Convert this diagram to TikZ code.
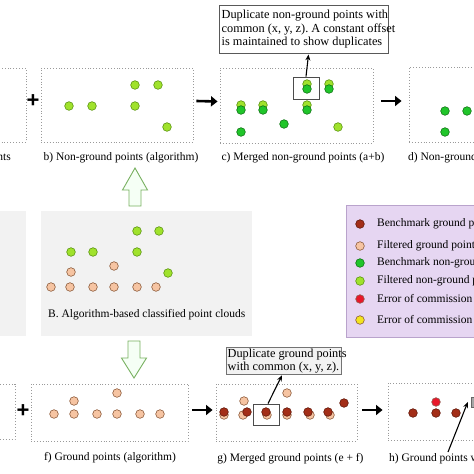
\documentclass[tikz,border=0pt]{standalone}
\usepackage{fontspec}
\setmainfont{Liberation Serif}
\setsansfont{Liberation Sans}
\usetikzlibrary{arrows.meta}
\definecolor{lgreen}{HTML}{A0E22C}
\definecolor{lgreenb}{HTML}{5A9410}
\definecolor{dgreen}{HTML}{20C52A}
\definecolor{dgreenb}{HTML}{0F7414}
\definecolor{peach}{HTML}{F6C4A2}
\definecolor{peachb}{HTML}{8C5A3A}
\definecolor{bmbrown}{HTML}{A32E18}
\definecolor{bmbrownb}{HTML}{62180A}
\definecolor{errred}{HTML}{E8182A}
\definecolor{erryel}{HTML}{F2E41E}
\definecolor{legbg}{HTML}{E6D6F2}
\definecolor{legbd}{HTML}{B9A3CC}
\definecolor{panelbg}{HTML}{F2F2F2}
\definecolor{hollowg}{HTML}{78B060}
\definecolor{dotgrey}{HTML}{9A9A9A}
\begin{document}
\frenchspacing
\begin{tikzpicture}[x=1pt,y=-1pt,
  font=\fontsize{11.5}{13.5}\selectfont,
  pt/.style={circle,inner sep=0pt,minimum size=8.6pt,line width=0.6pt},
  lg/.style={pt,fill=lgreen,draw=lgreenb},
  dg/.style={pt,fill=dgreen,draw=dgreenb},
  pe/.style={pt,fill=peach,draw=peachb},
  bm/.style={pt,fill=bmbrown,draw=bmbrownb},
  er/.style={pt,fill=errred,draw=bmbrownb!70},
  ey/.style={pt,fill=erryel,draw=peachb},
  dotbox/.style={draw=dotgrey,dotted,line width=0.9pt,inner sep=0pt},
  hlbox/.style={draw=black!70,line width=0.9pt,inner sep=0pt},
  bigarr/.style={line width=2.6pt,-{Triangle[length=6.5pt,width=10pt]}},
  callarr/.style={line width=1.1pt,-{Stealth[length=6pt,width=5pt]}},
  hollow/.style={draw=hollowg,fill=white!96!green,line width=0.9pt},
  plussign/.style={font=\fontsize{22}{22}\selectfont\sffamily\bfseries,inner sep=0pt},
  captxt/.style={inner sep=0pt},
  calltxt/.style={inner sep=0pt,align=left,font=\fontsize{12.3}{13.5}\selectfont}]
\useasboundingbox (0,0) rectangle (474,474);
\clip (0,0) rectangle (474,474);
\fill[white] (0,0) rectangle (474,474);

% ---------- top row ----------
\node[dotbox,minimum width=152pt,minimum height=74pt] (boxa) at (-50,105) {};
\node[dotbox,minimum width=152pt,minimum height=74pt] (boxb) at (117,105) {};
\node[dotbox,minimum width=153pt,minimum height=75pt] (boxc) at (296.5,105.5) {};
\node[dotbox,minimum width=152pt,minimum height=75pt] (boxd) at (485,105) {};

\node[plussign] (plus1) at (33,101) {+};
\draw[bigarr] ([xshift=3pt,yshift=4pt]boxb.east) -- ([xshift=-2pt,yshift=4pt]boxc.west);
\draw[bigarr] ([xshift=8pt,yshift=4.5pt]boxc.east) -- ([xshift=-7pt,yshift=4pt]boxd.west);

\foreach \x/\y [count=\i] in {69/106,92/106,135/85,158/85,135/106,167/127}
  \node[lg] (b\i) at (\x,\y) {};

\foreach \x/\y [count=\i] in {307/84,329/84,241/105,263/105,307/105,338/127}
  \node[lg] (cl\i) at (\x,\y) {};
\foreach \x/\y [count=\i] in {307/89,329/89,241/110,263/110,307/110,284/124,241/132}
  \node[dg] (cd\i) at (\x,\y) {};

\foreach \x/\y [count=\i] in {445/111,467/111,445/132}
  \node[dg] (d\i) at (\x,\y) {};

\node[hlbox,minimum width=26pt,minimum height=22pt] (hlc) at (306,88) {};
\node[draw=black!65,line width=1pt,fill=white,minimum width=169pt,minimum height=48pt,inner sep=0pt] (callc) at (303.5,29) {};
\node[calltxt,anchor=west] (callctxt) at (221.5,29.5)
  {Duplicate non-ground points with\\common (x, y, z). A constant offset\\is maintained to show duplicates};
\draw[callarr] (hlc.north) -- ([xshift=5pt,yshift=-1pt]callc.south);

\node[captxt,anchor=east] (capa) at (11,158) {a) Non-ground points};
\node[captxt] (capb) at (121,158) {b) Non-ground points (algorithm)};
\node[captxt] (capc) at (303,158) {c) Merged non-ground points (a+b)};
\node[captxt,anchor=west] (capd) at (408,158) {d) Non-ground points (benchmark)};

% ---------- middle ----------
\node[fill=panelbg,minimum width=60pt,minimum height=125pt,inner sep=0pt] (panelA) at (-4,273.5) {};
\node[fill=panelbg,minimum width=211pt,minimum height=125pt,inner sep=0pt] (panelB) at (146.5,273.5) {};

\foreach \x/\y [count=\i] in {137/231,159/231,71/252,93/252,137/252,168/273}
  \node[lg] (Bg\i) at (\x,\y) {};
\foreach \x/\y [count=\i] in {114/266,71/272,51/287,70/287,93/287,114/287,137/287,156/287}
  \node[pe] (Bp\i) at (\x,\y) {};
\node[captxt,anchor=west] (capB) at (48,315) {B. Algorithm-based classified point clouds};

% hollow arrows
\draw[hollow] (129,206) -- (129,190) -- (122.5,190) -- (135,168) -- (147.5,190) -- (141,190) -- (141,206) -- cycle;
\draw[hollow] (128,341) -- (128,358) -- (121.5,358) -- (134,378) -- (146.5,358) -- (140,358) -- (140,341) -- cycle;

% legend
\node[fill=legbg,draw=legbd,line width=0.6pt,minimum width=150pt,minimum height=132pt,inner sep=0pt] (legend) at (421,271) {};
\node[bm] (l1) at (360,224) {};
\node[pe] (l2) at (360,246) {};
\node[dg] (l3) at (360,263) {};
\node[lg] (l4) at (360,281) {};
\node[er] (l5) at (360,299) {};
\node[ey] (l6) at (360,320) {};
\node[captxt,anchor=west] (t1) at (377,224) {Benchmark ground points};
\node[captxt,anchor=west] (t2) at (377,246) {Filtered ground points};
\node[captxt,anchor=west] (t3) at (377,263) {Benchmark non-ground points};
\node[captxt,anchor=west] (t4) at (377,281) {Filtered non-ground points};
\node[captxt,anchor=west] (t5) at (377,299) {Error of commission};
\node[captxt,anchor=west] (t6) at (377,320) {Error of commission};

% ---------- bottom row ----------
\node[dotbox,minimum width=157pt,minimum height=55pt] (boxe) at (-63.5,411.5) {};
\node[dotbox,minimum width=157pt,minimum height=57pt] (boxf) at (109.5,412.5) {};
\node[dotbox,minimum width=141pt,minimum height=57pt] (boxg) at (286.5,412.5) {};
\node[dotbox,minimum width=157pt,minimum height=57pt] (boxh) at (466.5,411.5) {};

\node[plussign] (plus2) at (23,411) {+};
\draw[bigarr] ([xshift=4pt,yshift=2.5pt]boxf.east) -- ([xshift=-3pt,yshift=2.5pt]boxg.west);
\draw[bigarr] ([xshift=5pt,yshift=2.5pt]boxg.east) -- ([xshift=-5pt,yshift=1.5pt]boxh.west);

\foreach \x/\y [count=\i] in {117/393,74/401,54/414,74/414,97/414,117/414,140/414,160/414}
  \node[pe] (f\i) at (\x,\y) {};

\foreach \x/\y [count=\i] in {224/415,243/415,267/415,287/415,310/415,330/415,244/401,287/393}
  \node[pe] (gp\i) at (\x,\y) {};
\foreach \x/\y [count=\i] in {224/412,247/412,266/412,287/412,308/412,328/412,344/403}
  \node[bm] (gb\i) at (\x,\y) {};

\node[er] (h1) at (436,402) {};
\foreach \x [count=\i] in {413,436,456}
  \node[bm] (hb\i) at (\x,413) {};
\node[fill=black!35,draw=black!60,minimum width=8pt,minimum height=10pt,inner sep=0pt] (hgrey) at (475,402) {};

\node[hlbox,minimum width=26pt,minimum height=21pt] (hlg) at (266,414.5) {};
\node[draw=black!55,line width=0.6pt,fill=black!5,minimum width=115pt,minimum height=27pt,inner sep=0pt] (callg) at (283.5,360.5) {};
\node[calltxt,anchor=west,font=\fontsize{12.3}{13}\selectfont] (callgtxt) at (227.5,361)
  {Duplicate ground points\\with common (x, y, z).};
\draw[callarr] ([xshift=2pt]hlg.north) -- ([xshift=-1.5pt,yshift=-1pt]callg.south);

\coordinate (htail) at (448,452);
\draw[callarr] (htail) -- ([xshift=-3pt]hgrey.west);

\node[captxt] (capf) at (110,458) {f) Ground points (algorithm)};
\node[captxt] (capg) at (290.5,459) {g) Merged ground points (e + f)};
\node[captxt,anchor=west] (caph) at (389,459) {h) Ground points with errors};
\end{tikzpicture}
\end{document}
